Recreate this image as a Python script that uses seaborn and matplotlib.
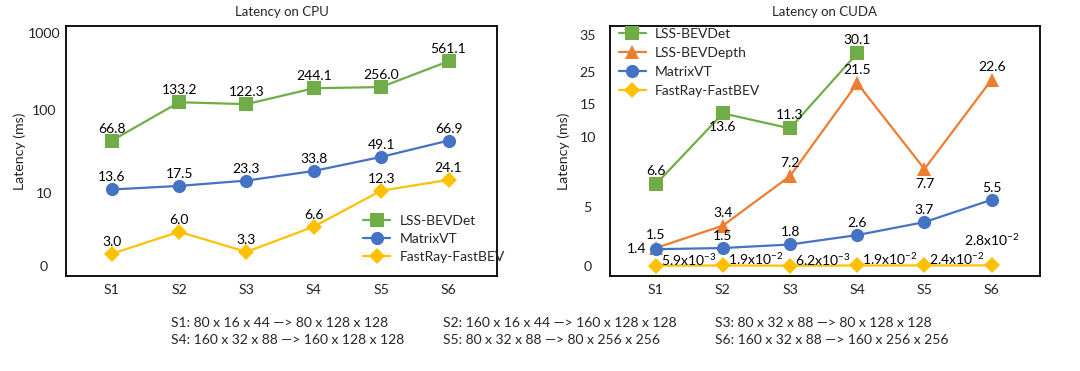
import numpy as np
import matplotlib
matplotlib.use("Agg")
import matplotlib.pyplot as plt
import seaborn as sns

# ---------------- data ----------------
categories = ["S1", "S2", "S3", "S4", "S5", "S6"]

cpu_bevdet = [66.8, 133.2, 122.3, 244.1, 256.0, 561.1]
cpu_matrixvt = [13.6, 17.5, 23.3, 33.8, 49.1, 66.9]
cpu_fastray = [3.0, 6.0, 3.3, 6.6, 12.3, 24.1]

cuda_bevdet = [6.6, 13.6, 11.3, 30.1]          # S1-S4 only
cuda_bevdepth = [1.5, 3.4, 7.2, 21.5, 7.7, 22.6]
cuda_matrixvt = [1.4, 1.5, 1.8, 2.6, 3.7, 5.5]
cuda_fastray = [5.9e-3, 1.9e-2, 6.2e-3, 1.9e-2, 2.4e-2, 2.8e-2]

cpu_ticks = [0, 10, 100, 1000]
cuda_ticks = [0, 5, 10, 15, 25, 35]

settings = [
    "S1: 80 x 16 x 44 \u2014> 80 x 128 x 128",
    "S2: 160 x 16 x 44 \u2014> 160 x 128 x 128",
    "S3: 80 x 32 x 88 \u2014> 80 x 128 x 128",
    "S4: 160 x 32 x 88 \u2014> 160 x 128 x 128",
    "S5: 80 x 32 x 88 \u2014> 80 x 256 x 256",
    "S6: 160 x 32 x 88 \u2014> 160 x 256 x 256",
]

# ---------------- style ----------------
sns.set_style("white")
plt.rcParams["font.family"] = ["Lato", "DejaVu Sans"]
plt.rcParams["mathtext.fontset"] = "custom"
plt.rcParams["mathtext.rm"] = "Lato"
plt.rcParams["mathtext.it"] = "Lato:italic"
plt.rcParams["mathtext.bf"] = "Lato:bold"

GREEN, ORANGE, BLUE, YELLOW = "#70AD47", "#ED7D31", "#4472C4", "#FFC000"
TFS = 10.2     # tick labels / axis label
LEGFS = 10     # legend
LFS = 10       # data labels


def piecewise_scale(knot_vals, knot_pos, warp=None, unwarp=None):
    """Non-uniform axis whose ticks sit at the given heights."""
    warp = warp or (lambda v: np.asarray(v, float))
    unwarp = unwarp or (lambda w: np.asarray(w, float))
    kv = np.asarray(warp(np.asarray(knot_vals, float)), float)
    kp = np.asarray(knot_pos, float)

    def make(xs, ys):
        s0 = (ys[1] - ys[0]) / (xs[1] - xs[0])
        s1 = (ys[-1] - ys[-2]) / (xs[-1] - xs[-2])

        def f(x):
            x = np.asarray(x, float)
            y = np.interp(x, xs, ys)
            y = np.where(x < xs[0], ys[0] + (x - xs[0]) * s0, y)
            y = np.where(x > xs[-1], ys[-1] + (x - xs[-1]) * s1, y)
            return y
        return f

    f_fwd, f_inv = make(kv, kp), make(kp, kv)
    return (lambda v: f_fwd(warp(v))), (lambda p: unwarp(f_inv(p)))


P_LOW, P_HIGH = 1.5, 0.69


def cpu_warp(v):
    v = np.asarray(v, float)
    low = np.sign(v) * 10 * (np.abs(v) / 10) ** P_LOW
    high = 100 + 900 * (np.maximum(v - 100, 0) / 900) ** P_HIGH
    return np.where(v < 10, low, np.where(v > 100, high, v))


def cpu_unwarp(w):
    w = np.asarray(w, float)
    low = np.sign(w) * 10 * (np.abs(w) / 10) ** (1 / P_LOW)
    high = 100 + 900 * (np.maximum(w - 100, 0) / 900) ** (1 / P_HIGH)
    return np.where(w < 10, low, np.where(w > 100, high, w))


fig = plt.figure(figsize=(10.8, 3.71), dpi=100)
ax1 = fig.add_axes([66 / 1080, 1 - 276 / 371, 431 / 1080, 250 / 371])
ax2 = fig.add_axes([610 / 1080, 1 - 276 / 371, 430 / 1080, 250 / 371])

AX_H = 250.3
cpu_fwd, cpu_inv = piecewise_scale(cpu_ticks, [10.3, 83.3, 166.0, 243.7],
                                   cpu_warp, cpu_unwarp)
cuda_fwd, cuda_inv = piecewise_scale(cuda_ticks,
                                     [10.3, 69.3, 139.3, 172.0, 204.3, 241.0])


def draw(ax, xs, ys, color, marker, ms, name):
    sns.lineplot(x=xs, y=ys, ax=ax, color=color, marker=marker, markersize=ms,
                 markeredgecolor=color, markeredgewidth=0, linewidth=1.6,
                 label=name, sort=False, legend=False)


def annotate(ax, ys, fmt, placement=None, default=(0, 12), ha="center"):
    placement = placement or {}
    for i, v in enumerate(ys):
        dx, dy, h = placement.get(i, (default[0], default[1], ha))
        ax.annotate(fmt(v), (i, v), xytext=(dx, dy), textcoords="offset pixels",
                    ha=h, va="center", fontsize=LFS, color="black")


def sci(v):
    e = int(np.floor(np.log10(v)))
    m = v / 10 ** e
    return f"{m:.1f}x10$^{{{e}}}$"


one = lambda v: f"{v:.1f}"

# ---------------- CPU ----------------
ax1.set_yscale("function", functions=(cpu_fwd, cpu_inv))
draw(ax1, categories, cpu_bevdet, GREEN, "s", 9.5, "LSS-BEVDet")
draw(ax1, categories, cpu_matrixvt, BLUE, "o", 9.5, "MatrixVT")
draw(ax1, categories, cpu_fastray, YELLOW, "D", 8, "FastRay-FastBEV")
annotate(ax1, cpu_bevdet, one)
annotate(ax1, cpu_matrixvt, one)
annotate(ax1, cpu_fastray, one)
ax1.set_ylim(float(cpu_inv(0.0)), float(cpu_inv(AX_H)))
ax1.set_yticks(cpu_ticks, labels=[str(t) for t in cpu_ticks])
ax1.set_title("Latency on CPU", fontsize=9.5, pad=7)
ax1.legend(loc="upper left", bbox_to_anchor=(0.69, 0.245), frameon=False,
           fontsize=LEGFS, borderaxespad=0, borderpad=0, handlelength=1.95,
           handletextpad=0.65, labelspacing=0.45)

# ---------------- CUDA ----------------
ax2.set_yscale("function", functions=(cuda_fwd, cuda_inv))
draw(ax2, categories[:len(cuda_bevdet)], cuda_bevdet, GREEN, "s", 9.5, "LSS-BEVDet")
draw(ax2, categories, cuda_bevdepth, ORANGE, "^", 10, "LSS-BEVDepth")
draw(ax2, categories, cuda_matrixvt, BLUE, "o", 9.5, "MatrixVT")
draw(ax2, categories, cuda_fastray, YELLOW, "D", 8, "FastRay-FastBEV")
annotate(ax2, cuda_bevdet, one, placement={1: (0, -14, "center")}, default=(0, 13))
annotate(ax2, cuda_bevdepth, one, placement={4: (0, -15, "center")}, default=(0, 13))
annotate(ax2, cuda_matrixvt, one, placement={0: (-9, 0, "right")}, default=(0, 12))
annotate(ax2, cuda_fastray, sci,
         placement={i: (5, 6, "left") for i in range(5)}, default=(0, 25))
ax2.set_ylim(float(cuda_inv(0.0)), float(cuda_inv(AX_H)))
ax2.set_yticks(cuda_ticks, labels=[str(t) for t in cuda_ticks])
ax2.set_title("Latency on CUDA", fontsize=9.5, pad=7)
ax2.legend(loc="upper left", bbox_to_anchor=(0.02, 0.992), frameon=False,
           fontsize=LEGFS, borderaxespad=0, borderpad=0, handlelength=1.95,
           handletextpad=0.65, labelspacing=0.5)

for ax in (ax1, ax2):
    ax.set_xlim(-0.68, 5.72)
    ax.set_xlabel("")
    ax.set_ylabel("Latency (ms)", fontsize=TFS)
    ax.yaxis.set_label_coords(-0.092, 0.5)
    ax.tick_params(axis="both", length=0, labelsize=TFS)
    ax.tick_params(axis="y", pad=16)
    ax.tick_params(axis="x", pad=6)
    for lab in ax.get_yticklabels():
        lab.set_horizontalalignment("center")
    for sp in ax.spines.values():
        sp.set_color("black")
        sp.set_linewidth(1.3)
    ax.grid(False)

# ---------------- setting descriptions ----------------
col_x = [171, 443, 715]
row_y = [323, 340]
for k, txt in enumerate(settings):
    r, c = divmod(k, 3)
    fig.text(col_x[c] / 1080, 1 - row_y[r] / 371, txt, fontsize=10,
             ha="left", va="center")

fig.savefig("out.png", dpi=100)
